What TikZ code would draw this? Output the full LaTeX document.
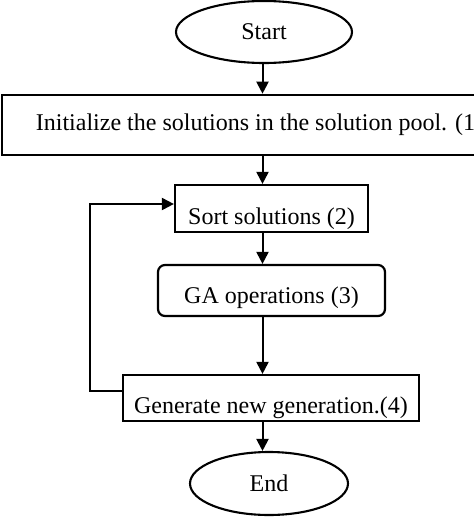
\documentclass[tikz,border=0pt]{standalone}
\usepackage{fontspec}
\setmainfont{Liberation Serif}
\usetikzlibrary{shapes.geometric,arrows.meta}
\begin{document}
\begin{tikzpicture}[x=1pt,y=-1pt,
  every node/.style={font=\fontsize{24}{28}\selectfont},
  box/.style={draw,line width=2.2pt,rectangle,inner sep=0pt},
  oval/.style={draw,line width=2.1pt,ellipse,inner sep=0pt},
  arr/.style={line width=2pt,-{Triangle[length=12pt,width=12pt]}},
  lbl/.style={inner sep=0pt}]
\useasboundingbox (0,0) rectangle (474,517);
\clip (0,0) rectangle (474,517);
\coordinate (axis) at (262.5,0);
\node[oval,minimum width=176,minimum height=62] (start) at (264,32) {Start};
\node[box,minimum width=515,minimum height=60,line width=2.6pt] (init) at (259.5,125)
  {Initialize the solutions in the solution pool. (1)};
\node[box,minimum width=193,minimum height=47,
  label={[lbl,name=sortt,yshift=-10pt]center:Sort solutions (2)}] (sort) at (271.5,208.5) {};
\node[box,rounded corners=7pt,minimum width=227,minimum height=51,
  label={[lbl,name=gat,yshift=-7pt]center:GA operations (3)}] (ga) at (271.5,290.5) {};
\node[box,minimum width=296,minimum height=46,
  label={[lbl,name=gent,yshift=-10pt]center:Generate new generation.(4)}] (gen) at (271,398) {};
\node[oval,minimum width=158,minimum height=63] (end) at (269,483.5) {End};
\coordinate (loopx) at (90,0);
\draw[arr] (axis |- start.south) -- (axis |- init.north);
\draw[arr] (axis |- init.south) -- (axis |- sort.north);
\draw[arr] (axis |- sort.south) -- (axis |- ga.north);
\draw[arr] (axis |- ga.south) -- (axis |- gen.north);
\draw[arr] (axis |- gen.south) -- (axis |- end.north);
\coordinate (gl) at ([yshift=7pt]gen.west);
\coordinate (sl) at ([yshift=4.5pt]sort.west);
\draw[arr] (gl) -- (loopx |- gl) -- (loopx |- sl) -- (sl);
\end{tikzpicture}
\end{document}
